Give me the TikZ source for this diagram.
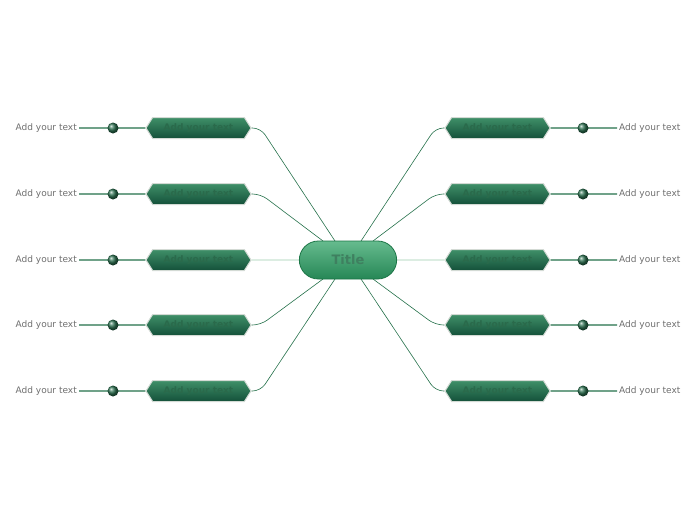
\documentclass[tikz,border=0pt]{standalone}
\usepackage{fontspec}
\setmainfont{DejaVu Sans}
\usetikzlibrary{shapes.symbols,shapes.misc}
\definecolor{limbgreen}{HTML}{24704A}
\definecolor{midgreen}{HTML}{9CCBAE}
\definecolor{hextop}{HTML}{3F9068}
\definecolor{hexbot}{HTML}{14503A}
\definecolor{hexrim}{HTML}{D3DAD4}
\definecolor{hextext}{HTML}{2A6A4B}
\definecolor{titletop}{HTML}{66BB8E}
\definecolor{titlebot}{HTML}{268756}
\definecolor{titlerim}{HTML}{1C7546}
\definecolor{titletext}{HTML}{3F8060}
\definecolor{leafgray}{HTML}{6E6E6E}
\definecolor{knobgreen}{HTML}{2C7050}
\tikzset{
    title/.style={
        rounded rectangle, draw=titlerim, line width=.8pt,
        top color=titletop, bottom color=titlebot,
        minimum width=100pt, minimum height=38pt,
        text=titletext, font=\bfseries\fontsize{13}{15}\selectfont
    },
    branch/.style={
        shape=signal, signal to=west and east, signal pointer angle=115,
        draw=hexrim, line width=1pt, top color=hextop, bottom color=hexbot,
        minimum width=105pt, minimum height=21pt, inner sep=0pt,
        text=hextext, font=\bfseries\fontsize{9}{10}\selectfont
    },
    leaf/.style={text=leafgray, inner sep=2pt, font=\fontsize{9}{11}\selectfont},
    knob/.style={circle, ball color=knobgreen, minimum size=11pt, inner sep=0pt},
    twig/.style={draw=limbgreen, line width=1.2pt},
    limb/.style={draw=limbgreen, line width=.6pt, rounded corners=8pt},
    midlimb/.style={draw=midgreen, line width=.8pt}
}

\begin{document}
\begin{tikzpicture}[x=1pt, y=-1pt]
    \useasboundingbox (0,0) rectangle (696,520);
    \node[title, minimum width=104pt] (T) at (348,260) {Title};
    % Branches, leaves and knobs
    \foreach \n/\y in {1/128,2/194,3/260,4/325,5/391}{
        \node[branch] (L\n) at (198.5,\y) {Add your text};
        \node[branch] (R\n) at (497.5,\y) {Add your text};
        \node[leaf, anchor=east] (LT\n) at (79,\y) {Add your text};
        \node[leaf, anchor=west] (RT\n) at (617,\y) {Add your text};
        \draw[twig] (LT\n) -- (L\n);
        \draw[twig] (R\n) -- (RT\n);
        \node[knob] (LK\n) at (113,\y) {};
        \node[knob] (RK\n) at (583,\y) {};
    }
    % Links to the title
    \coordinate (TL1) at (335,241);
    \coordinate (TL2) at (323,241);
    \coordinate (TL4) at (323,279);
    \coordinate (TL5) at (335,279);
    \coordinate (TR1) at (361,241);
    \coordinate (TR2) at (373,241);
    \coordinate (TR4) at (373,279);
    \coordinate (TR5) at (361,279);
    \foreach \n in {1,2,4,5}{
        \draw[limb] (L\n.east) -- ++(9,0) -- (TL\n);
        \draw[limb] (R\n.west) -- ++(-9,0) -- (TR\n);
    }
    \draw[midlimb] (L3) -- (T);
    \draw[midlimb] (T) -- (R3);
\end{tikzpicture}
\end{document}
